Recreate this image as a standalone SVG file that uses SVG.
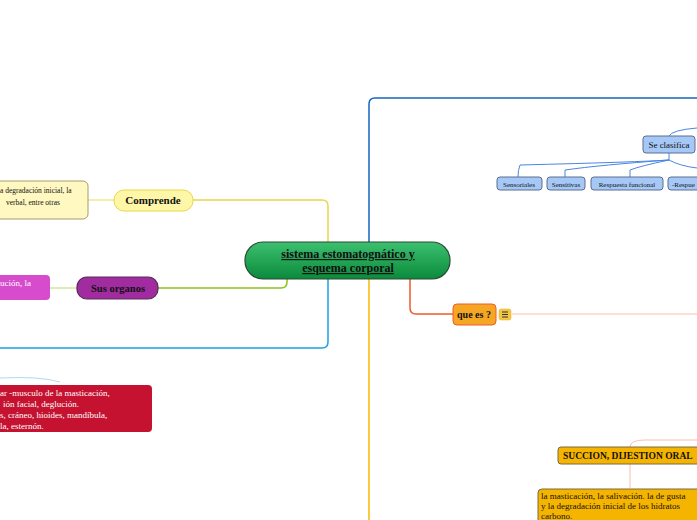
<svg xmlns="http://www.w3.org/2000/svg" width="697" height="520" viewBox="0 0 697 520">
<defs>
<linearGradient id="g" x1="0" y1="0" x2="0" y2="1"><stop offset="0" stop-color="#3cc070"/><stop offset="1" stop-color="#0b8a3c"/></linearGradient>
<style>
text{font-family:"Liberation Serif",serif;fill:#111}
.b{font-weight:bold}
.c{fill:none;stroke-width:1.5}
.s{fill:#a6c8f7;stroke:#5a6f90;stroke-width:1}
</style>
</defs>
<rect width="697" height="520" fill="#fff"/>
<g id="connectors">
<path class="c" stroke="#e8d84a" d="M193,200 H322 Q328,200 328,206 V243"/>
<path class="c" stroke="#f0e890" d="M88,200 H114"/>
<path class="c" stroke="#8cc21c" d="M158,288 H281 Q287,288 287,282 V278"/>
<path class="c" stroke="#d0e8a0" d="M50,288 H77"/>
<path class="c" stroke="#1fa0e0" d="M328,279 V342 Q328,348 322,348 H0"/>
<path class="c" stroke="#1565c0" d="M369,243 V104 Q369,98 375,98 H697"/>
<path class="c" stroke="#f5b800" d="M369,279 V520"/>
<path class="c" stroke="#f05a28" d="M410,279 V308 Q410,314 416,314 H453"/>
<path fill="none" stroke="#f8c0b0" stroke-width="1" d="M512,314 H697"/>
<path fill="none" stroke="#f8c0b0" stroke-width="1" d="M630,447 Q630,440 645,440 H697 M630,464 V488"/>
<path fill="none" stroke="#b0d8f0" stroke-width="1" d="M60,382 Q40,376 0,378"/>
<path fill="none" stroke="#4a86e0" stroke-width="1" d="M669,136 Q672,130 697,128 M669,153 V160 Q640,162 520,165 Q518,170 518,177 M669,160 Q600,165 565,170 V177 M669,160 Q640,166 630,170 V177 M669,160 Q680,166 697,168"/>
</g>
<g id="central"><rect x="245" y="242" width="205" height="37" rx="18" fill="url(#g)" stroke="#2b4a35" stroke-width="1.2"/>
<text x="348" y="258" text-anchor="middle" font-size="12" class="b" text-decoration="underline">sistema estomatognático y </text>
<text x="348" y="272" text-anchor="middle" font-size="12" class="b" text-decoration="underline">esquema corporal</text></g>
<g id="comprende"><rect x="114" y="190" width="79" height="21" rx="10" fill="#fff7a8" stroke="#e8d84a"/>
<text x="153" y="204" text-anchor="middle" font-size="11" class="b">Comprende</text></g>
<g id="comprende-text"><rect x="-10" y="181" width="98" height="38" rx="5" fill="#fff8c0" stroke="#a89c70"/>
<text x="0" y="193" font-size="7.5">a degradación inicial, la</text><text x="6" y="205" font-size="7.5">verbal, entre otras</text></g>
<g id="organos"><rect x="77" y="277" width="81" height="22" rx="10" fill="#a02ca0" stroke="#5a2a5a" stroke-width="1.2"/>
<text x="118" y="292" text-anchor="middle" font-size="10.5" class="b">Sus organos</text></g>
<g id="organos-text"><rect x="-10" y="275" width="60" height="25" rx="4" fill="#d64ccc"/>
<text x="0" y="286" font-size="9" fill="#fff" style="fill:#fff">ución, la</text></g>
<g id="red"><rect x="-10" y="385" width="162" height="47" rx="4" fill="#c41230"/>
<text font-size="9" style="fill:#fff"><tspan x="0" y="396">ar -musculo de la masticación,</tspan><tspan x="3" y="407">ión facial, deglución.</tspan><tspan x="0" y="418">s, cráneo, hioides, mandíbula,</tspan><tspan x="0" y="429">la, esternón.</tspan></text></g>
<g id="queEs"><rect x="453" y="304" width="43" height="21" rx="4" fill="#f5a623" stroke="#f05a28"/>
<text x="474" y="318" text-anchor="middle" font-size="10" class="b">que es ?</text>
<rect x="499" y="309" width="12" height="11" rx="2" fill="#f5c640" stroke="#e8b020" stroke-width="0.5"/>
<path d="M502,312 h6 M502,314.5 h6 M502,317 h6" stroke="#333" stroke-width="1"/></g>
<g id="seClasifica"><rect x="643" y="136" width="52" height="17" rx="3" class="s"/>
<text x="669" y="148" text-anchor="middle" font-size="9">Se clasifica</text></g>
<g id="sensoriales"><rect x="497" y="177" width="45" height="13" rx="3" class="s"/><text x="519" y="187" text-anchor="middle" font-size="7">Sensoriales</text></g>
<g id="sensitivas"><rect x="547" y="177" width="38" height="13" rx="3" class="s"/><text x="566" y="187" text-anchor="middle" font-size="7">Sensitivas</text></g>
<g id="respuesta"><rect x="591" y="177" width="72" height="13" rx="3" class="s"/><text x="627" y="187" text-anchor="middle" font-size="7">Respuesta funcional</text></g>
<g id="respuesta2"><rect x="668" y="177" width="40" height="13" rx="3" class="s"/><text x="672" y="187" font-size="7">-Respue</text></g>
<g id="succion"><rect x="558" y="447" width="150" height="17" rx="3" fill="#f5b400" stroke="#7a6a40"/>
<text x="563" y="459" font-size="9.5" class="b">SUCCION, DIJESTION ORAL</text></g>
<g id="succion-text"><rect x="538" y="489" width="170" height="40" rx="4" fill="#f5b400" stroke="#7a6a40"/>
<text font-size="9"><tspan x="541" y="499">la masticación, la salivación. la de gusta</tspan><tspan x="541" y="509">y la degradación inicial de los hidratos</tspan><tspan x="541" y="519">carbono.</tspan></text></g>
</svg>
